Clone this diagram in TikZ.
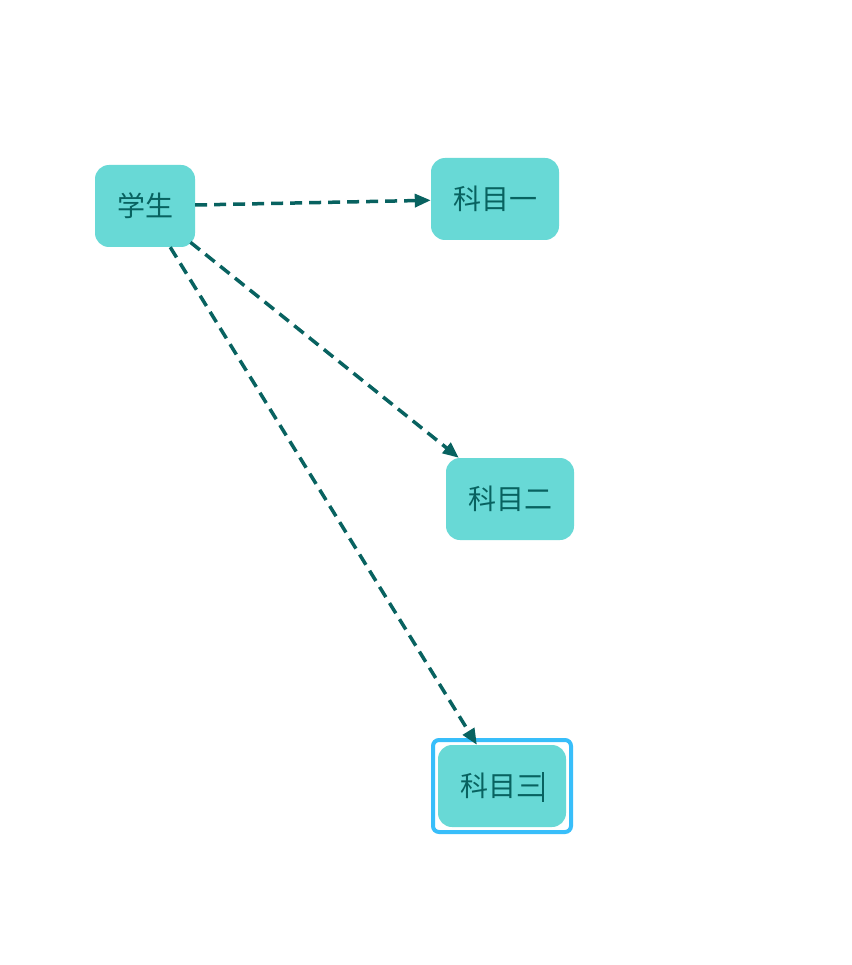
\documentclass[tikz,border=0pt]{standalone}
\usepackage{fontspec}
\newfontfamily\cjk{Noto Sans CJK SC}
\usetikzlibrary{arrows.meta}
\definecolor{boxfill}{RGB}{104,217,214}
\definecolor{ink}{RGB}{8,98,96}
\definecolor{selblue}{RGB}{56,190,250}
\tikzset{
  topic/.style={fill=boxfill, rounded corners=14pt, minimum height=82pt, inner sep=0pt,
    text=ink, font=\cjk\fontsize{28}{28}\selectfont},
  link/.style={draw=ink, line width=3.5pt, dash pattern=on 12pt off 7pt,
    -{Triangle[length=16pt,width=13pt]}}
}
\begin{document}
\begin{tikzpicture}[x=1pt,y=-1pt]
\useasboundingbox (0,0) rectangle (851,965);
\fill[white] (0,0) rectangle (851,965);
\node[topic, minimum width=100pt] (xs) at (145,206) {学生};
\node[topic, minimum width=128pt] (k1) at (495,199) {科目一};
\node[topic, minimum width=128pt] (k2) at (510,499) {科目二};
\node[topic, minimum width=128pt] (k3) at (502,786) {科目三};
\draw[selblue, line width=4pt, rounded corners=6pt] (433,740) rectangle (571,832);
\draw[ink, line width=2pt] (543,772) -- (543,802);
\draw[link] (xs) -- (k1);
\draw[link, shorten <=-6pt] (xs) -- (k2);
\draw[link] (xs) -- (k3);
\end{tikzpicture}
\end{document}
